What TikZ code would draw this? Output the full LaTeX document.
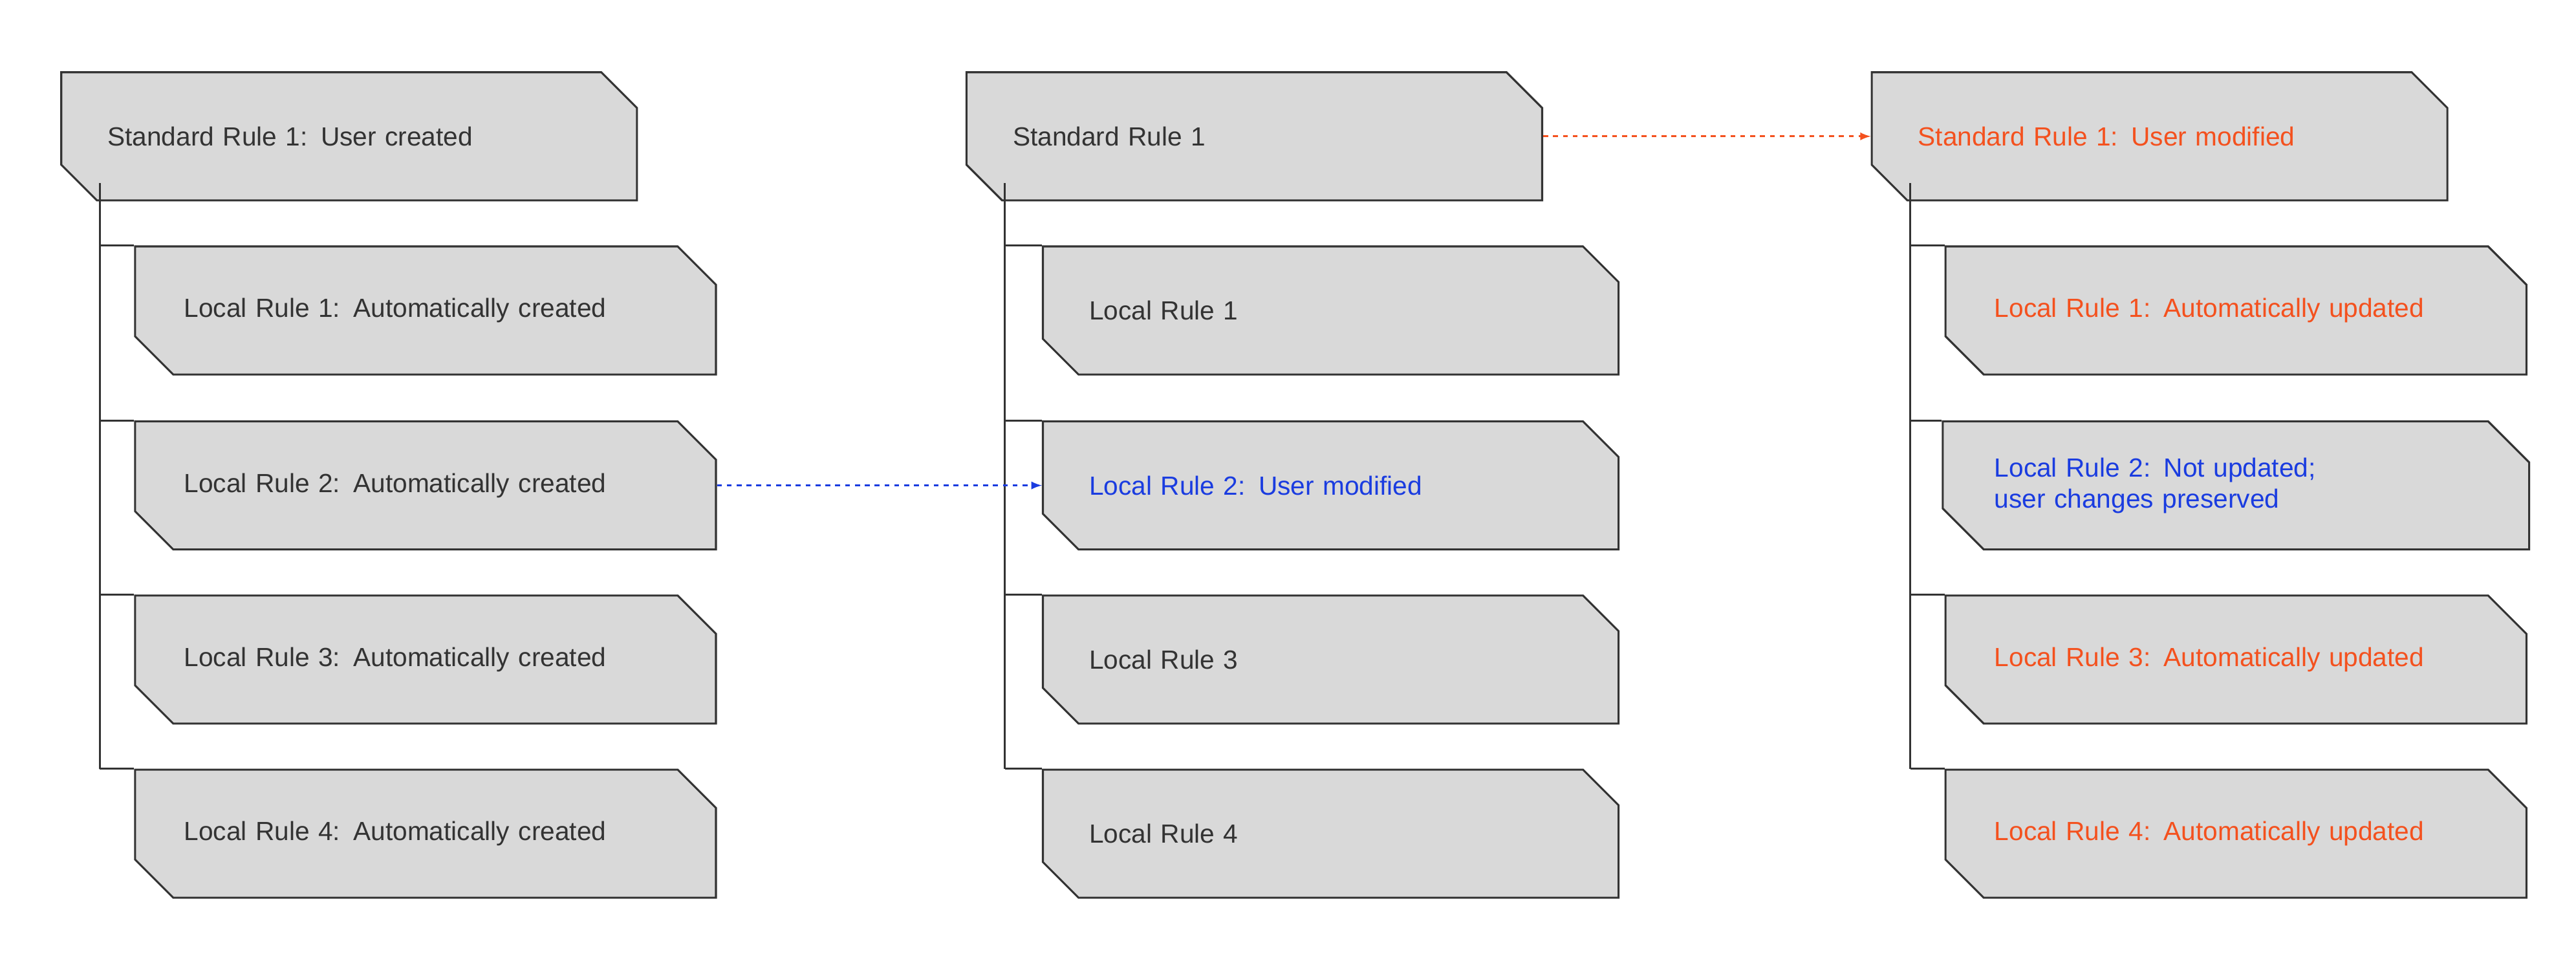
\documentclass[tikz,border=0pt]{standalone}
\usepackage{fontspec}
\setmainfont{Liberation Sans}
\usetikzlibrary{shapes.misc}
\definecolor{boxfill}{HTML}{D9D9D9}
\definecolor{boxline}{HTML}{333333}
\definecolor{orangetxt}{HTML}{F4511E}
\definecolor{bluetxt}{HTML}{1A3CE0}
\tikzset{
  rulebox/.style={chamfered rectangle, chamfered rectangle corners={north east,south west},
    chamfered rectangle xsep=12.5pt, chamfered rectangle ysep=12.5pt,
    draw=boxline, line width=1.2pt, fill=boxfill, minimum width=332pt, minimum height=78pt,
    text width=294pt, align=left, inner xsep=19pt, text=boxline,
    font=\fontsize{16}{19}\selectfont},
  tree/.style={draw=boxline, line width=1.2pt},
  link/.style={dashed, line width=1.2pt, -latex}
}
\begin{document}
\begin{tikzpicture}[x=1pt,y=-1pt]
  \useasboundingbox (0,0) rectangle (1568,585);
  % Column 1
  \node[rulebox] (s1) at (212.5,83) {Standard Rule 1: User created};
  \node[rulebox] (a1) at (259,189) {Local Rule 1: Automatically created};
  \node[rulebox] (a2) at (259,295.5) {Local Rule 2: Automatically created};
  \node[rulebox] (a3) at (259,401.5) {Local Rule 3: Automatically created};
  \node[rulebox] (a4) at (259,507.5) {Local Rule 4: Automatically created};
  % Column 2
  \node[rulebox] (s2) at (763.5,83) {Standard Rule 1};
  \node[rulebox] (b1) at (810,189) {Local Rule 1};
  \node[rulebox, text=bluetxt] (b2) at (810,295.5) {Local Rule 2: User modified};
  \node[rulebox] (b3) at (810,401.5) {Local Rule 3};
  \node[rulebox] (b4) at (810,507.5) {Local Rule 4};
  % Column 3
  \node[rulebox, text=orangetxt] (s3) at (1314.5,83) {Standard Rule 1: User modified};
  \node[rulebox, text=orangetxt] (c1) at (1361,189) {Local Rule 1: Automatically updated};
  \node[rulebox, text=bluetxt] (c2) at (1361,295.5) {Local Rule 2: Not updated;\\user changes preserved};
  \node[rulebox, text=orangetxt] (c3) at (1361,401.5) {Local Rule 3: Automatically updated};
  \node[rulebox, text=orangetxt] (c4) at (1361,507.5) {Local Rule 4: Automatically updated};
  % Tree lines
  \foreach \s/\l in {s1/a, s2/b, s3/c} {
    \draw[tree] ([xshift=13pt]\s.south west) -- ([xshift=13pt]\s.south west |- \l4.north west);
    \foreach \i in {1,...,4}
      \draw[tree] ([xshift=13pt]\s.south west |- \l\i.north west) -- (\l\i.north west);
  }
  % Links
  \draw[link, bluetxt] (a2.east) -- (b2.west);
  \draw[link, orangetxt] (s2.east) -- (s3.west);
\end{tikzpicture}
\end{document}
